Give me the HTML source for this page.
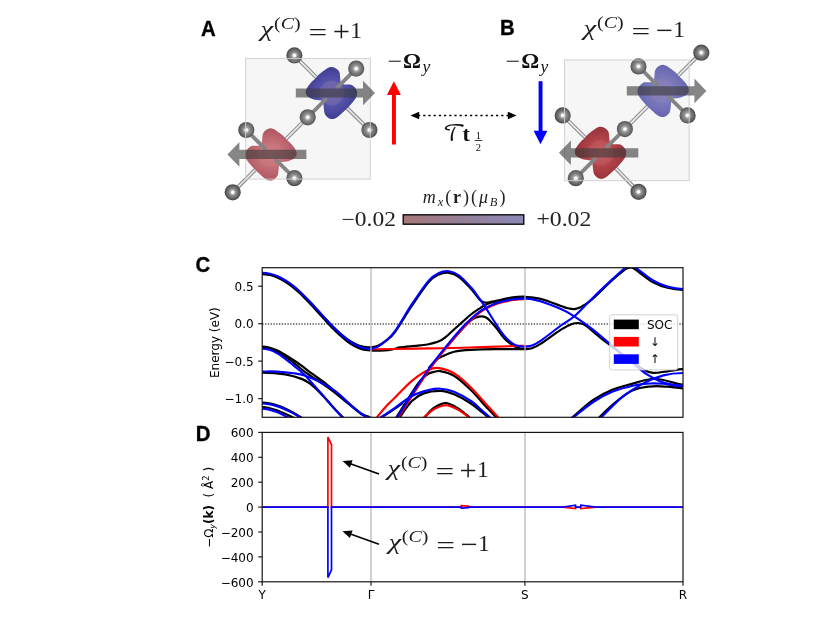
<!DOCTYPE html>
<html><head><meta charset="utf-8"><title>Figure</title>
<style>
html,body{margin:0;padding:0;background:#fff;}
body{width:830px;height:623px;overflow:hidden;}
svg{display:block;}
.dv{font-family:"DejaVu Sans","Liberation Sans",sans-serif;font-size:12px;fill:#000;}
.lab{font-family:"Liberation Sans","DejaVu Sans",sans-serif;font-weight:bold;font-size:22.4px;fill:#000;}
</style></head><body>
<svg width="830" height="623" viewBox="0 0 830 623">
<defs>
<radialGradient id="sph" cx="0.5" cy="0.5" r="0.5">
<stop offset="0" stop-color="#ffffff"/><stop offset="0.14" stop-color="#ffffff"/><stop offset="0.3" stop-color="#a8a8a8"/><stop offset="0.5" stop-color="#7e7e7e"/><stop offset="0.75" stop-color="#666"/><stop offset="0.93" stop-color="#4c4c4c"/><stop offset="1" stop-color="#565656"/>
</radialGradient>
<radialGradient id="gbA" gradientUnits="userSpaceOnUse" cx="0" cy="0" r="28"><stop offset="0" stop-color="#6058a8"/><stop offset="0.55" stop-color="#4340a0"/><stop offset="1" stop-color="#2c2a82"/></radialGradient>
<radialGradient id="grA" gradientUnits="userSpaceOnUse" cx="0" cy="0" r="28"><stop offset="0" stop-color="#c8747a"/><stop offset="0.55" stop-color="#bc5e68"/><stop offset="1" stop-color="#a4444e"/></radialGradient>
<radialGradient id="gbB" gradientUnits="userSpaceOnUse" cx="0" cy="0" r="28"><stop offset="0" stop-color="#7e76b4"/><stop offset="0.55" stop-color="#6c6ab4"/><stop offset="1" stop-color="#5654a6"/></radialGradient>
<radialGradient id="grB" gradientUnits="userSpaceOnUse" cx="0" cy="0" r="28"><stop offset="0" stop-color="#c05058"/><stop offset="0.55" stop-color="#a83038"/><stop offset="1" stop-color="#8a2028"/></radialGradient>
<linearGradient id="cbar" x1="0" x2="1" y1="0" y2="0"><stop offset="0" stop-color="#a57878"/><stop offset="0.5" stop-color="#957f98"/><stop offset="1" stop-color="#8a8ab4"/></linearGradient>
<clipPath id="clipC"><rect x="262.2" y="267.7" width="420.8" height="149.60000000000002"/></clipPath>
<clipPath id="clipD"><rect x="262.2" y="432.4" width="420.8" height="149.39999999999998"/></clipPath>
</defs>
<rect width="830" height="623" fill="#fff"/>

<!-- panel labels -->
<g class="lab" stroke="#000" stroke-width="0.35">
<text transform="translate(201.1 35.5) scale(0.91 1)">A</text>
<text transform="translate(499.9 35.3) scale(0.91 1)">B</text>
<text transform="translate(195.4 272.4) scale(0.91 1)">C</text>
<text transform="translate(195.7 440.6) scale(0.91 1)">D</text>
</g>

<!-- panel A -->
<g id="panelA">
<rect x="245.6" y="58.5" width="124.7" height="120.6" fill="#f6f6f6"/>
<line x1="331.8" y1="93.0" x2="294.4" y2="55.4" stroke="#8a8a8a" stroke-width="3.9"/><line x1="331.8" y1="93.0" x2="294.4" y2="55.4" stroke="#f0f0f0" stroke-width="1.5"/>
<line x1="331.8" y1="93.0" x2="369.4" y2="130.0" stroke="#8a8a8a" stroke-width="3.9"/><line x1="331.8" y1="93.0" x2="369.4" y2="130.0" stroke="#f0f0f0" stroke-width="1.5"/>
<line x1="270.6" y1="154.4" x2="307.7" y2="117.3" stroke="#8a8a8a" stroke-width="3.9"/><line x1="270.6" y1="154.4" x2="307.7" y2="117.3" stroke="#f0f0f0" stroke-width="1.5"/>
<line x1="270.6" y1="154.4" x2="232.7" y2="192.3" stroke="#8a8a8a" stroke-width="3.9"/><line x1="270.6" y1="154.4" x2="232.7" y2="192.3" stroke="#f0f0f0" stroke-width="1.5"/>
<g transform="translate(331.8 93.0)"><path d="M-26.0 -2.0C-25.6 -4.0 -23.7 -6.8 -22.0 -9.0C-20.3 -11.2 -17.8 -13.2 -16.0 -15.0C-14.2 -16.8 -13.5 -18.2 -11.0 -20.0C-8.5 -21.8 -4.0 -25.7 -1.0 -26.0C2.0 -26.3 5.4 -24.0 7.0 -22.0C8.6 -20.0 8.0 -16.2 8.5 -14.0C9.0 -11.8 8.1 -10.0 10.0 -9.0C11.9 -8.0 17.5 -9.2 20.0 -8.0C22.5 -6.8 24.3 -4.2 25.0 -2.0C25.7 0.2 25.2 2.6 24.0 5.0C22.8 7.4 20.0 10.2 18.0 12.5C16.0 14.8 14.2 16.5 12.0 18.5C9.8 20.5 7.2 23.2 5.0 24.5C2.8 25.8 0.9 26.4 -1.0 26.0C-2.9 25.6 -5.3 23.8 -6.5 22.0C-7.7 20.2 -7.7 17.0 -8.0 15.0C-8.3 13.0 -8.3 11.2 -8.5 10.0C-8.7 8.8 -7.4 8.6 -9.0 8.0C-10.6 7.4 -15.4 7.3 -18.0 6.5C-20.6 5.7 -23.2 4.4 -24.5 3.0C-25.8 1.6 -26.4 0.0 -26.0 -2.0Z" fill="url(#gbA)"/><circle cx="0" cy="0" r="12.5" fill="#8a78b0" opacity="0.3"/></g>
<g transform="translate(270.6 154.4) scale(-1 1)"><path d="M-26.0 -2.0C-25.6 -4.0 -23.7 -6.8 -22.0 -9.0C-20.3 -11.2 -17.8 -13.2 -16.0 -15.0C-14.2 -16.8 -13.5 -18.2 -11.0 -20.0C-8.5 -21.8 -4.0 -25.7 -1.0 -26.0C2.0 -26.3 5.4 -24.0 7.0 -22.0C8.6 -20.0 8.0 -16.2 8.5 -14.0C9.0 -11.8 8.1 -10.0 10.0 -9.0C11.9 -8.0 17.5 -9.2 20.0 -8.0C22.5 -6.8 24.3 -4.2 25.0 -2.0C25.7 0.2 25.2 2.6 24.0 5.0C22.8 7.4 20.0 10.2 18.0 12.5C16.0 14.8 14.2 16.5 12.0 18.5C9.8 20.5 7.2 23.2 5.0 24.5C2.8 25.8 0.9 26.4 -1.0 26.0C-2.9 25.6 -5.3 23.8 -6.5 22.0C-7.7 20.2 -7.7 17.0 -8.0 15.0C-8.3 13.0 -8.3 11.2 -8.5 10.0C-8.7 8.8 -7.4 8.6 -9.0 8.0C-10.6 7.4 -15.4 7.3 -18.0 6.5C-20.6 5.7 -23.2 4.4 -24.5 3.0C-25.8 1.6 -26.4 0.0 -26.0 -2.0Z" fill="url(#grA)"/><circle cx="0" cy="0" r="12.5" fill="#d07878" opacity="0.3"/></g>
<line x1="336.7" y1="88.1" x2="356.2" y2="68.6" stroke="#7a7a7a" stroke-width="3.8"/>
<line x1="326.9" y1="98.0" x2="307.7" y2="117.3" stroke="#7a7a7a" stroke-width="3.8"/>
<line x1="265.7" y1="149.4" x2="246.3" y2="130.0" stroke="#7a7a7a" stroke-width="3.8"/>
<line x1="275.5" y1="159.3" x2="294.4" y2="178.2" stroke="#7a7a7a" stroke-width="3.8"/>
<circle cx="294.4" cy="55.4" r="8.1" fill="url(#sph)"/>
<circle cx="356.2" cy="68.6" r="8.1" fill="url(#sph)"/>
<circle cx="307.7" cy="117.3" r="8.1" fill="url(#sph)"/>
<circle cx="369.4" cy="130.0" r="8.1" fill="url(#sph)"/>
<circle cx="246.3" cy="130.0" r="8.1" fill="url(#sph)"/>
<circle cx="294.4" cy="178.2" r="8.1" fill="url(#sph)"/>
<circle cx="232.7" cy="192.3" r="8.1" fill="url(#sph)"/>
<rect x="245.6" y="58.5" width="124.7" height="120.6" fill="#fff" fill-opacity="0.08" stroke="#cfcfcf" stroke-opacity="0.85" stroke-width="1.1"/>
<polygon points="295.8,88.4 363.0,88.4 363.0,80.7 375.0,93.0 363.0,105.3 363.0,97.6 295.8,97.6" fill="#3c3c3c" fill-opacity="0.62"/>
<polygon points="306.4,149.8 239.4,149.8 239.4,142.1 227.4,154.4 239.4,166.7 239.4,159.0 306.4,159.0" fill="#3c3c3c" fill-opacity="0.62"/>
</g>
<!-- panel B -->
<g id="panelB">
<rect x="564.5" y="60" width="124.7" height="120.6" fill="#f6f6f6"/>
<line x1="662.8" y1="90.9" x2="701.3" y2="52.7" stroke="#8a8a8a" stroke-width="3.9"/><line x1="662.8" y1="90.9" x2="701.3" y2="52.7" stroke="#f0f0f0" stroke-width="1.5"/>
<line x1="662.8" y1="90.9" x2="624.9" y2="129.1" stroke="#8a8a8a" stroke-width="3.9"/><line x1="662.8" y1="90.9" x2="624.9" y2="129.1" stroke="#f0f0f0" stroke-width="1.5"/>
<line x1="600.9" y1="152.8" x2="562.7" y2="115.4" stroke="#8a8a8a" stroke-width="3.9"/><line x1="600.9" y1="152.8" x2="562.7" y2="115.4" stroke="#f0f0f0" stroke-width="1.5"/>
<line x1="600.9" y1="152.8" x2="638.5" y2="191.8" stroke="#8a8a8a" stroke-width="3.9"/><line x1="600.9" y1="152.8" x2="638.5" y2="191.8" stroke="#f0f0f0" stroke-width="1.5"/>
<g transform="translate(662.8 90.9) scale(-1 1)"><path d="M-26.0 -2.0C-25.6 -4.0 -23.7 -6.8 -22.0 -9.0C-20.3 -11.2 -17.8 -13.2 -16.0 -15.0C-14.2 -16.8 -13.5 -18.2 -11.0 -20.0C-8.5 -21.8 -4.0 -25.7 -1.0 -26.0C2.0 -26.3 5.4 -24.0 7.0 -22.0C8.6 -20.0 8.0 -16.2 8.5 -14.0C9.0 -11.8 8.1 -10.0 10.0 -9.0C11.9 -8.0 17.5 -9.2 20.0 -8.0C22.5 -6.8 24.3 -4.2 25.0 -2.0C25.7 0.2 25.2 2.6 24.0 5.0C22.8 7.4 20.0 10.2 18.0 12.5C16.0 14.8 14.2 16.5 12.0 18.5C9.8 20.5 7.2 23.2 5.0 24.5C2.8 25.8 0.9 26.4 -1.0 26.0C-2.9 25.6 -5.3 23.8 -6.5 22.0C-7.7 20.2 -7.7 17.0 -8.0 15.0C-8.3 13.0 -8.3 11.2 -8.5 10.0C-8.7 8.8 -7.4 8.6 -9.0 8.0C-10.6 7.4 -15.4 7.3 -18.0 6.5C-20.6 5.7 -23.2 4.4 -24.5 3.0C-25.8 1.6 -26.4 0.0 -26.0 -2.0Z" fill="url(#gbB)"/><circle cx="0" cy="0" r="12.5" fill="#8a80b8" opacity="0.3"/></g>
<g transform="translate(600.9 152.8)"><path d="M-26.0 -2.0C-25.6 -4.0 -23.7 -6.8 -22.0 -9.0C-20.3 -11.2 -17.8 -13.2 -16.0 -15.0C-14.2 -16.8 -13.5 -18.2 -11.0 -20.0C-8.5 -21.8 -4.0 -25.7 -1.0 -26.0C2.0 -26.3 5.4 -24.0 7.0 -22.0C8.6 -20.0 8.0 -16.2 8.5 -14.0C9.0 -11.8 8.1 -10.0 10.0 -9.0C11.9 -8.0 17.5 -9.2 20.0 -8.0C22.5 -6.8 24.3 -4.2 25.0 -2.0C25.7 0.2 25.2 2.6 24.0 5.0C22.8 7.4 20.0 10.2 18.0 12.5C16.0 14.8 14.2 16.5 12.0 18.5C9.8 20.5 7.2 23.2 5.0 24.5C2.8 25.8 0.9 26.4 -1.0 26.0C-2.9 25.6 -5.3 23.8 -6.5 22.0C-7.7 20.2 -7.7 17.0 -8.0 15.0C-8.3 13.0 -8.3 11.2 -8.5 10.0C-8.7 8.8 -7.4 8.6 -9.0 8.0C-10.6 7.4 -15.4 7.3 -18.0 6.5C-20.6 5.7 -23.2 4.4 -24.5 3.0C-25.8 1.6 -26.4 0.0 -26.0 -2.0Z" fill="url(#grB)"/><circle cx="0" cy="0" r="12.5" fill="#c86060" opacity="0.3"/></g>
<line x1="657.9" y1="85.9" x2="638.5" y2="66.4" stroke="#7a7a7a" stroke-width="3.8"/>
<line x1="667.8" y1="95.8" x2="687.6" y2="115.4" stroke="#7a7a7a" stroke-width="3.8"/>
<line x1="605.9" y1="147.9" x2="624.9" y2="129.1" stroke="#7a7a7a" stroke-width="3.8"/>
<line x1="596.0" y1="157.8" x2="575.8" y2="178.2" stroke="#7a7a7a" stroke-width="3.8"/>
<circle cx="701.3" cy="52.7" r="8.1" fill="url(#sph)"/>
<circle cx="638.5" cy="66.4" r="8.1" fill="url(#sph)"/>
<circle cx="687.6" cy="115.4" r="8.1" fill="url(#sph)"/>
<circle cx="624.9" cy="129.1" r="8.1" fill="url(#sph)"/>
<circle cx="562.7" cy="115.4" r="8.1" fill="url(#sph)"/>
<circle cx="575.8" cy="178.2" r="8.1" fill="url(#sph)"/>
<circle cx="638.5" cy="191.8" r="8.1" fill="url(#sph)"/>
<rect x="564.5" y="60" width="124.7" height="120.6" fill="#fff" fill-opacity="0.08" stroke="#cfcfcf" stroke-opacity="0.85" stroke-width="1.1"/>
<polygon points="626.8,86.3 694.4,86.3 694.4,78.6 706.4,90.9 694.4,103.2 694.4,95.5 626.8,95.5" fill="#3c3c3c" fill-opacity="0.62"/>
<polygon points="638.3,148.2 570.9,148.2 570.9,140.5 558.9,152.8 570.9,165.1 570.9,157.4 638.3,157.4" fill="#3c3c3c" fill-opacity="0.62"/>
</g>
<g font-family="'Liberation Serif','DejaVu Serif',serif" fill="#1c1c1c"><text x="260.6" y="36.0" font-size="22" font-style="italic" textLength="12.6" lengthAdjust="spacingAndGlyphs">χ</text><text x="274.0" y="29.0" font-size="17" textLength="26.6" lengthAdjust="spacingAndGlyphs">(<tspan font-style="italic">C</tspan>)</text><text x="308.5" y="40.0" font-size="24" textLength="18.7" lengthAdjust="spacingAndGlyphs">=</text><text x="332.7" y="41.0" font-size="29" textLength="17.2" lengthAdjust="spacingAndGlyphs">+</text><text x="350.2" y="38.0" font-size="23.5">1</text></g>
<g font-family="'Liberation Serif','DejaVu Serif',serif" fill="#1c1c1c"><text x="583.6" y="35.0" font-size="22" font-style="italic" textLength="12.6" lengthAdjust="spacingAndGlyphs">χ</text><text x="597.0" y="28.0" font-size="17" textLength="26.6" lengthAdjust="spacingAndGlyphs">(<tspan font-style="italic">C</tspan>)</text><text x="631.5" y="39.0" font-size="24" textLength="18.7" lengthAdjust="spacingAndGlyphs">=</text><text x="655.7" y="40.0" font-size="29" textLength="17.2" lengthAdjust="spacingAndGlyphs">−</text><text x="673.2" y="37.0" font-size="23.5">1</text></g>
<g font-family="'Liberation Serif','DejaVu Serif',serif" fill="#111"><text x="387.4" y="68.2" font-size="21" textLength="14.5" lengthAdjust="spacingAndGlyphs">−</text><text x="403.0" y="68.2" font-size="22" font-weight="bold" textLength="18" lengthAdjust="spacingAndGlyphs">Ω</text><text x="422.4" y="71.7" font-size="17.5" font-style="italic">y</text></g>
<g font-family="'Liberation Serif','DejaVu Serif',serif" fill="#111"><text x="505.6" y="68.2" font-size="21" textLength="14.5" lengthAdjust="spacingAndGlyphs">−</text><text x="521.2" y="68.2" font-size="22" font-weight="bold" textLength="18" lengthAdjust="spacingAndGlyphs">Ω</text><text x="540.6" y="71.7" font-size="17.5" font-style="italic">y</text></g>

<!-- red / blue vertical arrows -->
<rect x="392" y="94" width="3.9" height="50.5" fill="#f00"/>
<polygon points="393.9,81.2 400.9,94.9 386.9,94.9" fill="#f00"/>
<rect x="538.6" y="81.2" width="3.9" height="50.5" fill="#00f"/>
<polygon points="540.5,144.2 547.4,130.8 533.6,130.8" fill="#00f"/>

<!-- dotted double arrow -->
<line x1="418" y1="115.5" x2="509" y2="115.5" stroke="#000" stroke-width="1.7" stroke-dasharray="2.2 3"/>
<polygon points="410.4,115.5 419.2,111.7 419.2,119.3" fill="#000"/>
<polygon points="516.6,115.5 507.8,111.7 507.8,119.3" fill="#000"/>
<g fill="#111">
<text x="443" y="140.6" font-size="22" font-family="'DejaVu Math TeX Gyre','Liberation Serif',serif" font-style="normal">𝒯</text>
<text x="462.4" y="140.6" font-size="22" font-weight="bold" font-family="'Liberation Serif',serif">t</text>
<text x="478.4" y="138.8" font-size="10.5" text-anchor="middle" font-family="'Liberation Serif',serif">1</text>
<rect x="474.6" y="140.1" width="7.6" height="0.8"/>
<text x="478.4" y="150.7" font-size="10.5" text-anchor="middle" font-family="'Liberation Serif',serif">2</text>
</g>

<!-- colorbar -->
<rect x="403.2" y="214.8" width="120.6" height="9.4" fill="url(#cbar)" stroke="#000" stroke-width="1.3"/>
<g font-family="'Liberation Serif','DejaVu Serif',serif" fill="#222">
<text x="341.6" y="225.6" font-size="20.5" textLength="54.4" lengthAdjust="spacingAndGlyphs">−0.02</text>
<text x="536.4" y="225.6" font-size="20.5" textLength="55" lengthAdjust="spacingAndGlyphs">+0.02</text>
<text x="422.8" y="203.4" font-size="18" textLength="82.6"><tspan font-style="italic">m</tspan><tspan font-style="italic" font-size="12.5" dy="3">x</tspan><tspan dy="-3">(</tspan><tspan font-weight="bold">r</tspan>)(<tspan font-style="italic">μ</tspan><tspan font-style="italic" font-size="12.5" dy="3">B</tspan><tspan dy="-3">)</tspan></text>
</g>

<!-- plot C -->
<g id="plotC">
<line x1="262.2" x2="683.0" y1="323.9" y2="323.9" stroke="#4a4a4a" stroke-width="1.5" stroke-dasharray="1.3 1.5"/>
<g clip-path="url(#clipC)">
<path d="M261.7 274.0C263.0 274.1 266.9 274.3 269.5 274.8C272.1 275.4 274.7 276.3 277.2 277.4C279.8 278.5 282.4 279.9 285.0 281.6C287.6 283.2 290.2 285.1 292.8 287.2C295.4 289.2 298.0 291.6 300.6 294.0C303.1 296.4 305.7 299.1 308.3 301.8C310.9 304.5 313.5 307.4 316.1 310.2C318.7 313.0 321.3 316.0 323.9 318.8C326.5 321.6 329.1 324.5 331.6 327.2C334.2 329.8 336.8 332.5 339.4 334.8C342.0 337.2 344.6 339.4 347.2 341.3C349.8 343.3 352.4 345.0 355.0 346.3C357.5 347.7 360.1 348.7 362.7 349.5C365.3 350.2 369.2 350.4 370.5 350.5" fill="none" stroke="#000" stroke-width="2.2" stroke-linejoin="round"/>
<path d="M261.9 273.9C263.2 274.0 267.1 274.1 269.7 274.7C272.3 275.3 274.9 276.1 277.5 277.2C280.1 278.3 282.7 279.7 285.3 281.3C287.9 282.8 290.5 284.7 293.1 286.7C295.7 288.8 298.3 291.0 300.9 293.4C303.5 295.8 306.1 298.4 308.7 301.0C311.3 303.7 313.9 306.5 316.5 309.2C319.0 312.0 321.6 314.9 324.2 317.6C326.8 320.4 329.4 323.1 332.0 325.7C334.6 328.3 337.2 330.8 339.8 333.1C342.4 335.4 345.0 337.5 347.6 339.3C350.2 341.1 352.8 342.7 355.4 344.0C358.0 345.2 360.6 346.2 363.2 346.7C365.8 347.3 369.7 347.3 371.0 347.4" fill="none" stroke="#000" stroke-width="2.2" stroke-linejoin="round"/>
<path d="M248.1 350.2C250.5 349.6 257.7 346.5 262.5 346.5C267.3 346.5 271.7 347.9 276.9 350.2C282.1 352.5 289.5 357.5 293.7 360.2C297.9 362.9 299.4 364.0 302.2 366.1C305.0 368.2 306.4 369.5 310.6 372.6C314.8 375.8 321.9 380.6 327.5 385.0C333.1 389.4 338.7 394.5 344.3 399.3C349.9 404.1 356.8 410.7 361.2 413.7C365.6 416.7 369.4 416.9 371.0 417.5" fill="none" stroke="#000" stroke-width="2.2" stroke-linejoin="round"/>
<path d="M248.1 351.4C250.5 350.7 257.7 347.0 262.5 347.0C267.3 347.0 271.7 348.8 276.9 351.4C282.1 354.0 289.5 359.7 293.7 362.8C297.9 365.9 299.4 367.6 302.2 369.8C305.0 372.0 306.4 372.9 310.6 375.8C314.8 378.7 321.9 383.1 327.5 387.2C333.1 391.3 338.7 395.8 344.3 400.3C349.9 404.8 356.8 411.1 361.2 414.0C365.6 416.9 369.4 416.9 371.0 417.5" fill="none" stroke="#000" stroke-width="2.2" stroke-linejoin="round"/>
<path d="M239.7 374.4C243.5 374.1 254.9 372.7 262.5 372.7C270.1 372.7 278.7 373.3 285.3 374.4C291.9 375.5 298.0 377.5 302.2 379.1C306.4 380.7 307.8 382.1 310.6 384.2C313.4 386.3 316.2 388.9 319.0 391.7C321.8 394.5 324.7 397.9 327.5 401.0C330.3 404.1 333.4 407.6 335.9 410.3C338.4 413.0 340.6 414.9 342.6 417.0C344.6 419.1 347.1 422.0 348.0 423.0" fill="none" stroke="#000" stroke-width="2.2" stroke-linejoin="round"/>
<path d="M248.1 405.2C250.5 404.8 257.7 402.7 262.5 402.7C267.3 402.7 272.5 403.9 276.9 405.2C281.3 406.4 284.8 408.2 288.7 410.2C292.6 412.2 297.6 415.3 300.5 417.0C303.4 418.7 305.1 419.9 306.0 420.5" fill="none" stroke="#000" stroke-width="2.2" stroke-linejoin="round"/>
<path d="M248.1 410.3C250.5 409.8 257.7 407.0 262.5 407.0C267.3 407.0 272.0 408.6 276.9 410.3C281.8 412.0 288.6 415.4 292.0 417.0C295.4 418.6 296.2 419.5 297.0 420.0" fill="none" stroke="#000" stroke-width="2.2" stroke-linejoin="round"/>
<path d="M371.0 347.4C372.2 347.1 375.5 346.8 378.0 345.7C380.5 344.6 383.2 343.0 386.0 340.7C388.8 338.4 390.7 337.8 395.0 332.0C399.3 326.2 406.3 314.0 411.9 305.7C417.5 297.4 424.2 287.3 428.7 282.1C433.2 276.9 435.5 276.1 438.9 274.5C442.3 272.9 445.6 272.4 449.0 272.8C452.4 273.2 455.5 274.3 459.1 277.0C462.8 279.7 467.5 285.1 470.9 288.8C474.3 292.5 477.3 297.1 479.3 299.3C481.3 301.5 481.7 301.4 483.0 302.0C484.3 302.6 485.7 302.7 486.9 302.7C488.1 302.7 488.4 302.4 490.0 302.1C491.6 301.8 492.3 301.6 496.2 300.8C500.1 300.0 508.3 298.1 513.1 297.4C517.9 296.7 522.9 296.7 524.9 296.6" fill="none" stroke="#000" stroke-width="2.2" stroke-linejoin="round"/>
<path d="M371.0 350.5C372.5 350.5 377.2 350.8 380.0 350.7C382.8 350.6 385.5 350.5 388.0 350.2C390.5 349.9 393.0 349.3 395.0 348.8C397.0 348.3 397.2 347.8 400.0 347.4C402.8 347.0 408.6 346.5 411.9 346.2C415.2 345.9 417.2 345.7 420.0 345.4C422.8 345.1 425.6 344.9 428.7 344.2C431.8 343.5 436.1 342.5 438.9 341.3C441.7 340.1 443.1 339.1 445.6 337.1C448.1 335.1 451.2 332.0 454.0 329.5C456.8 327.0 459.7 324.4 462.5 321.9C465.3 319.4 468.1 316.7 470.9 314.5C473.7 312.3 476.8 310.4 479.3 308.7C481.8 307.0 483.3 305.7 486.1 304.5C488.9 303.3 491.7 302.6 496.2 301.5C500.7 300.4 508.3 298.9 513.1 298.2C517.9 297.5 522.9 297.5 524.9 297.4" fill="none" stroke="#000" stroke-width="2.2" stroke-linejoin="round"/>
<path d="M394.0 423.0C394.6 422.1 394.5 422.2 397.5 417.5C400.5 412.8 406.7 402.9 411.9 395.0C417.1 387.1 423.1 377.6 428.7 369.8C434.3 362.0 440.0 355.1 445.6 348.2C451.2 341.3 458.3 333.3 462.5 328.7C466.7 324.1 468.6 322.4 470.9 320.5C473.1 318.6 474.2 318.2 476.0 317.5C477.8 316.8 480.2 316.3 481.9 316.3C483.6 316.3 484.7 316.9 486.0 317.5C487.3 318.1 487.8 318.5 489.5 320.2C491.2 321.9 493.7 324.7 496.2 327.8C498.7 330.9 501.8 335.8 504.6 338.7C507.4 341.6 510.7 343.9 513.1 345.5C515.5 347.1 517.0 347.4 519.0 348.0C521.0 348.6 523.9 348.8 524.9 348.9" fill="none" stroke="#000" stroke-width="2.2" stroke-linejoin="round"/>
<path d="M428.7 368.2C429.8 366.9 433.2 362.5 435.5 360.5C437.8 358.5 439.1 357.8 442.2 356.3C445.3 354.9 449.2 352.9 454.0 351.8C458.8 350.7 463.9 350.3 470.9 349.9C477.9 349.5 487.2 349.3 496.2 349.2C505.2 349.1 520.1 349.1 524.9 349.1" fill="none" stroke="#000" stroke-width="2.2" stroke-linejoin="round"/>
<path d="M393.0 423.0C394.2 421.1 396.0 417.8 400.0 411.5C404.0 405.2 412.9 390.8 416.9 385.0C420.9 379.2 422.0 378.9 424.0 377.0C426.0 375.1 427.0 374.4 428.7 373.5C430.4 372.6 432.0 372.2 434.0 371.8C436.0 371.4 437.2 370.6 440.5 371.2C443.8 371.8 448.9 372.6 454.0 375.7C459.1 378.8 465.3 384.5 470.9 390.0C476.5 395.5 483.6 404.1 487.8 408.6C492.0 413.1 494.3 415.0 496.2 417.0C498.1 419.0 498.5 419.9 499.0 420.5" fill="none" stroke="#000" stroke-width="2.2" stroke-linejoin="round"/>
<path d="M398.0 420.0C398.3 419.5 397.7 420.2 400.0 417.0C402.3 413.8 407.9 404.9 411.9 401.0C415.8 397.1 418.9 395.1 423.7 393.4C428.5 391.7 435.4 390.8 440.5 390.9C445.6 391.0 448.9 392.2 454.0 394.3C459.1 396.4 465.3 399.7 470.9 403.5C476.5 407.3 484.4 414.2 487.8 417.0C491.2 419.8 490.5 419.9 491.0 420.5" fill="none" stroke="#000" stroke-width="2.2" stroke-linejoin="round"/>
<path d="M377.0 420.5C377.7 420.0 378.4 419.6 381.4 417.6C384.4 415.6 391.4 411.1 395.0 408.6C398.6 406.1 401.7 403.8 403.0 402.8" fill="none" stroke="#000" stroke-width="2.2" stroke-linejoin="round"/>
<path d="M422.0 420.5C422.6 419.8 423.5 418.6 425.5 416.5C427.5 414.4 430.4 410.2 433.8 408.0C437.2 405.8 441.7 403.2 445.6 403.2C449.5 403.2 453.5 405.7 457.4 408.0C461.3 410.3 466.5 414.9 469.0 417.0C471.5 419.1 471.9 419.9 472.5 420.5" fill="none" stroke="#000" stroke-width="2.2" stroke-linejoin="round"/>
<path d="M524.9 296.9C527.5 297.2 534.5 297.4 540.5 298.9C546.5 300.4 556.4 304.4 561.0 306.0C565.6 307.6 565.8 307.8 568.0 308.3C570.2 308.8 572.3 309.2 574.3 309.1C576.3 309.0 578.5 308.1 580.0 307.5C581.5 306.9 581.5 306.8 583.5 305.5C585.5 304.2 586.9 303.9 591.7 299.7C596.5 295.5 606.7 285.1 612.2 280.2C617.7 275.2 621.9 272.0 624.5 270.0C627.1 268.0 627.0 268.5 628.0 268.1C629.0 267.7 629.7 267.4 630.6 267.4C631.5 267.4 632.1 267.5 633.5 268.3C634.9 269.1 635.5 269.7 638.8 272.0C642.1 274.3 648.3 279.7 653.1 282.3C657.9 284.9 662.4 286.6 667.5 287.8C672.6 289.1 678.2 289.8 683.5 289.8C688.8 289.8 696.8 288.1 699.5 287.8" fill="none" stroke="#000" stroke-width="2.2" stroke-linejoin="round"/>
<path d="M524.9 349.3C526.1 349.1 529.4 349.1 532.0 348.2C534.6 347.3 535.7 347.0 540.5 343.9C545.3 340.8 555.8 332.9 561.0 329.6C566.2 326.3 569.1 325.1 572.0 324.0C574.9 322.9 576.4 322.9 578.4 323.0C580.4 323.1 582.5 323.9 584.0 324.6C585.5 325.3 584.6 324.6 587.6 327.0C590.6 329.4 597.8 335.5 601.9 338.8C606.0 342.1 608.8 344.1 612.2 346.8C615.6 349.5 617.3 351.1 622.4 354.9C627.5 358.6 637.8 366.3 642.9 369.3C648.0 372.3 649.0 372.6 653.1 372.9C657.2 373.2 662.4 371.9 667.5 371.3C672.6 370.7 678.2 369.1 683.5 369.1C688.8 369.1 696.8 370.9 699.5 371.3" fill="none" stroke="#000" stroke-width="2.2" stroke-linejoin="round"/>
<path d="M569.0 420.5C569.9 419.7 570.2 419.2 574.2 415.8C578.2 412.4 586.9 404.3 593.2 400.0C599.5 395.7 605.6 392.5 612.2 389.8C618.8 387.1 626.2 385.4 632.7 383.6C639.2 381.8 646.0 379.6 651.1 379.0C656.2 378.4 658.0 379.1 663.4 380.0C668.8 380.9 676.8 384.5 683.5 384.5C690.2 384.5 700.2 380.8 703.6 380.0" fill="none" stroke="#000" stroke-width="2.2" stroke-linejoin="round"/>
<path d="M597.0 420.5C597.5 419.9 597.4 419.4 599.9 416.8C602.4 414.2 607.8 408.9 612.2 405.1C616.6 401.3 622.1 396.7 626.5 393.9C630.9 391.1 634.4 389.6 638.8 388.3C643.2 387.0 648.3 386.6 653.1 386.3C657.9 386.0 662.4 386.4 667.5 386.7C672.6 387.0 678.2 388.3 683.5 388.3C688.8 388.3 696.8 387.0 699.5 386.7" fill="none" stroke="#000" stroke-width="2.2" stroke-linejoin="round"/>
<path d="M371.0 349.2C375.0 349.2 385.2 349.1 395.0 349.0C404.8 348.9 418.8 348.6 430.0 348.4C441.2 348.2 447.5 348.1 462.5 347.7C477.5 347.3 509.4 346.1 519.8 345.9C530.2 345.7 524.0 346.5 524.9 346.6" fill="none" stroke="#f00" stroke-width="2.15" stroke-linejoin="round"/>
<path d="M394.8 423.5C395.4 422.5 395.3 422.3 398.3 417.5C401.3 412.7 407.5 402.8 412.7 394.8C417.9 386.8 423.9 377.4 429.5 369.5C435.1 361.6 440.8 354.7 446.4 347.7C452.0 340.7 457.7 333.6 463.3 327.7C468.9 321.8 474.5 316.3 480.1 312.3C485.7 308.3 491.4 305.9 497.0 303.8C502.6 301.7 509.1 300.7 513.9 299.9C518.7 299.1 523.7 299.2 525.7 299.1" fill="none" stroke="#f00" stroke-width="2.15" stroke-linejoin="round"/>
<path d="M375.0 420.5C375.5 419.8 376.2 418.3 378.0 416.0C379.8 413.7 383.2 409.6 386.0 406.5C388.8 403.4 390.7 401.9 395.0 397.6C399.3 393.3 406.3 385.4 411.9 380.8C417.5 376.2 424.2 371.9 428.7 369.8C433.2 367.7 434.7 367.5 438.9 368.1C443.1 368.7 448.7 370.0 454.0 373.2C459.3 376.4 465.3 382.0 470.9 387.5C476.5 393.0 483.3 401.2 487.8 406.1C492.3 411.0 495.7 414.6 497.9 417.0C500.1 419.4 500.5 419.9 501.0 420.5" fill="none" stroke="#f00" stroke-width="2.15" stroke-linejoin="round"/>
<path d="M421.0 420.5C421.6 419.9 422.4 418.9 424.5 417.0C426.6 415.1 430.3 411.4 433.8 409.4C437.3 407.4 441.7 405.2 445.6 405.2C449.5 405.2 453.6 407.4 457.4 409.4C461.2 411.4 466.0 415.1 468.4 417.0C470.8 418.9 471.4 419.9 472.0 420.5" fill="none" stroke="#f00" stroke-width="2.15" stroke-linejoin="round"/>
<path d="M254.4 273.7C255.7 273.6 259.6 272.9 262.2 272.9C264.8 272.9 267.4 273.2 270.0 273.7C272.6 274.3 275.2 275.1 277.7 276.2C280.3 277.4 282.9 278.8 285.5 280.4C288.1 282.0 290.7 283.9 293.3 285.9C295.9 288.0 298.5 290.3 301.1 292.7C303.6 295.2 306.2 297.8 308.8 300.5C311.4 303.2 314.0 306.1 316.6 308.9C319.2 311.7 321.8 314.6 324.4 317.5C327.0 320.3 329.6 323.1 332.1 325.8C334.7 328.5 337.3 331.1 339.9 333.4C342.5 335.8 345.1 338.0 347.7 339.9C350.3 341.8 352.9 343.5 355.5 344.9C358.0 346.2 360.6 347.3 363.2 348.0C365.8 348.7 369.7 348.9 371.0 349.0" fill="none" stroke="#00f" stroke-width="2.15" stroke-linejoin="round"/>
<path d="M248.1 353.0C250.5 352.3 257.7 348.7 262.5 348.7C267.3 348.7 271.7 350.2 276.9 353.0C282.1 355.8 289.1 362.0 293.7 365.6C298.3 369.2 300.5 370.7 304.7 374.9C308.9 379.1 314.6 386.0 319.0 390.9C323.4 395.8 327.0 400.0 330.8 404.4C334.6 408.8 338.6 413.4 341.8 417.0C345.0 420.6 348.6 424.5 350.0 426.0" fill="none" stroke="#00f" stroke-width="2.15" stroke-linejoin="round"/>
<path d="M248.1 371.6C250.5 371.6 257.7 371.5 262.5 371.5C267.3 371.5 271.7 371.3 276.9 371.6C282.1 371.9 289.1 372.6 293.7 373.2C298.3 373.8 300.5 374.0 304.7 375.4C308.9 376.8 313.8 378.9 319.0 381.6C324.2 384.3 330.3 387.5 335.9 391.7C341.5 395.9 348.0 402.9 352.8 406.9C357.6 410.9 361.6 414.1 364.6 415.9C367.6 417.7 369.9 417.3 371.0 417.6" fill="none" stroke="#00f" stroke-width="2.15" stroke-linejoin="round"/>
<path d="M248.1 406.1C250.5 405.7 257.7 403.5 262.5 403.5C267.3 403.5 272.5 404.8 276.9 406.1C281.3 407.4 284.9 409.3 288.7 411.1C292.5 412.9 296.9 415.4 299.6 417.0C302.3 418.6 304.1 419.9 305.0 420.5" fill="none" stroke="#00f" stroke-width="2.15" stroke-linejoin="round"/>
<path d="M248.1 412.0C250.5 411.4 257.7 408.6 262.5 408.6C267.3 408.6 272.8 410.6 276.9 412.0C281.0 413.4 284.5 415.7 287.0 417.0C289.5 418.3 291.2 419.5 292.0 420.0" fill="none" stroke="#00f" stroke-width="2.15" stroke-linejoin="round"/>
<path d="M371.0 349.0C372.2 348.6 375.5 348.0 378.0 346.6C380.5 345.2 383.2 343.3 386.0 340.7C388.8 338.1 390.7 337.3 395.0 331.2C399.3 325.1 406.3 312.6 411.9 304.2C417.5 295.8 424.2 285.8 428.7 280.6C433.2 275.4 435.5 274.6 438.9 273.0C442.3 271.4 445.6 270.9 449.0 271.3C452.4 271.7 455.5 272.8 459.1 275.5C462.8 278.2 467.5 283.5 470.9 287.3C474.3 291.1 476.8 294.8 479.3 298.3C481.8 301.8 483.3 304.0 486.1 308.4C488.9 312.8 493.1 319.8 496.2 324.4C499.3 329.0 501.8 333.0 504.6 336.2C507.4 339.4 510.6 342.1 513.1 343.8C515.6 345.5 517.8 345.8 519.8 346.3C521.8 346.8 524.0 346.7 524.9 346.8" fill="none" stroke="#00f" stroke-width="2.15" stroke-linejoin="round"/>
<path d="M394.0 423.0C394.6 422.0 394.5 421.8 397.5 417.0C400.5 412.2 406.7 402.3 411.9 394.3C417.1 386.3 423.1 376.9 428.7 369.0C434.3 361.1 440.0 354.2 445.6 347.2C451.2 340.2 456.9 333.1 462.5 327.2C468.1 321.3 473.7 315.8 479.3 311.8C484.9 307.8 490.6 305.4 496.2 303.3C501.8 301.2 508.3 300.2 513.1 299.4C517.9 298.6 522.9 298.7 524.9 298.6" fill="none" stroke="#00f" stroke-width="2.15" stroke-linejoin="round"/>
<path d="M377.0 420.5C377.7 419.9 378.4 419.1 381.4 417.0C384.4 414.9 389.9 411.3 395.0 407.8C400.1 404.3 406.3 398.9 411.9 396.0C417.5 393.1 423.9 391.3 428.7 390.1C433.5 388.9 436.3 388.4 440.5 388.7C444.7 389.0 448.9 389.6 454.0 391.7C459.1 393.8 466.1 397.8 470.9 401.0C475.7 404.2 479.6 408.4 482.7 411.1C485.8 413.8 487.8 415.4 489.5 417.0C491.2 418.6 492.4 419.9 493.0 420.5" fill="none" stroke="#00f" stroke-width="2.15" stroke-linejoin="round"/>
<path d="M524.9 346.8C526.1 346.6 529.4 346.5 532.0 345.5C534.6 344.5 535.7 344.2 540.5 340.9C545.3 337.6 555.4 329.6 561.0 325.5C566.6 321.4 569.2 320.7 574.3 316.3C579.4 311.9 585.4 305.0 591.7 298.9C598.0 292.8 606.7 284.5 612.2 279.4C617.7 274.3 621.9 270.5 624.5 268.2C627.1 265.9 627.0 266.3 628.0 265.8C629.0 265.3 629.7 265.0 630.6 265.0C631.5 265.0 632.1 265.0 633.5 265.8C634.9 266.6 635.5 267.6 638.8 270.0C642.1 272.4 648.3 277.7 653.1 280.5C657.9 283.3 662.4 285.2 667.5 286.6C672.6 288.0 678.2 289.0 683.5 289.0C688.8 289.0 696.8 287.0 699.5 286.6" fill="none" stroke="#00f" stroke-width="2.15" stroke-linejoin="round"/>
<path d="M524.9 298.6C526.1 298.7 529.4 298.9 532.0 299.3C534.6 299.8 535.7 299.7 540.5 301.3C545.3 302.9 555.4 306.6 561.0 309.1C566.6 311.6 569.2 313.1 574.3 316.3C579.4 319.6 585.4 323.7 591.7 328.6C598.0 333.5 605.4 340.1 612.2 345.8C619.0 351.6 626.9 358.3 632.7 363.1C638.5 367.9 641.9 371.1 647.0 374.4C652.1 377.6 657.3 380.7 663.4 382.6C669.5 384.5 676.8 385.7 683.5 385.7C690.2 385.7 700.2 383.1 703.6 382.6" fill="none" stroke="#00f" stroke-width="2.15" stroke-linejoin="round"/>
<path d="M570.0 420.5C570.7 419.9 570.3 419.9 574.2 416.8C578.1 413.7 586.9 406.2 593.2 402.0C599.5 397.8 605.6 394.5 612.2 391.8C618.8 389.1 626.4 387.1 632.7 385.7C639.0 384.3 644.9 383.8 650.0 383.5C655.1 383.2 657.8 383.3 663.4 383.8C669.0 384.3 676.8 386.3 683.5 386.3C690.2 386.3 700.2 384.2 703.6 383.8" fill="none" stroke="#00f" stroke-width="2.15" stroke-linejoin="round"/>
<path d="M598.0 420.5C598.6 419.9 597.8 420.7 601.9 416.8C606.0 412.9 615.6 402.4 622.4 396.9C629.2 391.4 636.1 387.2 642.9 383.6C649.7 380.0 656.6 377.2 663.4 375.4C670.2 373.6 676.8 373.0 683.5 373.0C690.2 373.0 700.2 375.0 703.6 375.4" fill="none" stroke="#00f" stroke-width="2.15" stroke-linejoin="round"/>
</g>
<line x1="371.0" x2="371.0" y1="267.7" y2="417.3" stroke="#b8b8b8" stroke-opacity="0.78" stroke-width="1.6"/>
<line x1="525" x2="525" y1="267.7" y2="417.3" stroke="#b8b8b8" stroke-opacity="0.78" stroke-width="1.6"/>
<!-- legend -->
<rect x="609.7" y="314.8" width="68" height="55.1" rx="2.4" ry="2.4" fill="#fff" fill-opacity="0.8" stroke="#ccc" stroke-opacity="0.9" stroke-width="1"/>
<rect x="613.8" y="319.6" width="25" height="9.6" fill="#000"/>
<rect x="613.8" y="336.9" width="25" height="9.6" fill="#f00"/>
<rect x="613.8" y="354.3" width="25" height="9.6" fill="#00f"/>
<g class="dv"><text x="647" y="328.8">SOC</text><text x="649.8" y="345.8">↓</text><text x="649.8" y="363.2">↑</text></g>
<rect x="262.2" y="267.7" width="420.8" height="149.60000000000002" fill="none" stroke="#151515" stroke-width="1.2"/>
<g class="dv">
<line x1="258.2" x2="262.2" y1="286.2" y2="286.2" stroke="#202020" stroke-width="1.2"/>
<text x="253.6" y="290.9" text-anchor="end">0.5</text>
<line x1="258.2" x2="262.2" y1="323.7" y2="323.7" stroke="#202020" stroke-width="1.2"/>
<text x="253.6" y="328.4" text-anchor="end">0.0</text>
<line x1="258.2" x2="262.2" y1="361.1" y2="361.1" stroke="#202020" stroke-width="1.2"/>
<text x="253.6" y="365.8" text-anchor="end">−0.5</text>
<line x1="258.2" x2="262.2" y1="398.6" y2="398.6" stroke="#202020" stroke-width="1.2"/>
<text x="253.6" y="403.3" text-anchor="end">−1.0</text>
<text transform="translate(218.9 342.6) rotate(-90)" text-anchor="middle">Energy (eV)</text>
</g>
</g>

<!-- plot D -->
<g id="plotD">
<line x1="371.0" x2="371.0" y1="432.4" y2="581.8" stroke="#c4c4c4" stroke-width="1.6"/>
<line x1="525" x2="525" y1="432.4" y2="581.8" stroke="#c4c4c4" stroke-width="1.6"/>
<g clip-path="url(#clipD)" fill="none" stroke-width="1.7" stroke-linejoin="miter">
<path d="M262.2 507.09999999999997 L327.9 507.09999999999997 L327.9 437.1 L331.5 444.8 L331.5 507.09999999999997 L461 507.09999999999997 L461.3 505.6 L468.5 506.1 L469.5 507.09999999999997 L563 507.09999999999997 L575.5 508.6 L575.7 507.09999999999997 L580.6 507.09999999999997 L580.8 508.6 L596 507.09999999999997 L683.0 507.09999999999997" stroke="#f00"/>
<path d="M262.2 507.09999999999997 L327.9 507.09999999999997 L327.9 577.6 L331.5 569.9 L331.5 507.09999999999997 L461 507.09999999999997 L461.3 508.2 L468.5 507.7 L469.5 507.09999999999997 L563 507.09999999999997 L575.5 505.2 L575.7 507.09999999999997 L580.6 507.09999999999997 L580.8 505.2 L596 507.09999999999997 L683.0 507.09999999999997" stroke="#00f"/>
</g>
<rect x="262.2" y="432.4" width="420.8" height="149.39999999999998" fill="none" stroke="#151515" stroke-width="1.2"/>
<g class="dv">
<line x1="258.2" x2="262.2" y1="432.4" y2="432.4" stroke="#202020" stroke-width="1.2"/>
<text x="253.6" y="437.1" text-anchor="end">600</text>
<line x1="258.2" x2="262.2" y1="457.3" y2="457.3" stroke="#202020" stroke-width="1.2"/>
<text x="253.6" y="462.0" text-anchor="end">400</text>
<line x1="258.2" x2="262.2" y1="482.2" y2="482.2" stroke="#202020" stroke-width="1.2"/>
<text x="253.6" y="486.9" text-anchor="end">200</text>
<line x1="258.2" x2="262.2" y1="507.1" y2="507.1" stroke="#202020" stroke-width="1.2"/>
<text x="253.6" y="511.8" text-anchor="end">0</text>
<line x1="258.2" x2="262.2" y1="532.0" y2="532.0" stroke="#202020" stroke-width="1.2"/>
<text x="253.6" y="536.7" text-anchor="end">−200</text>
<line x1="258.2" x2="262.2" y1="556.9" y2="556.9" stroke="#202020" stroke-width="1.2"/>
<text x="253.6" y="561.6" text-anchor="end">−400</text>
<line x1="258.2" x2="262.2" y1="581.8" y2="581.8" stroke="#202020" stroke-width="1.2"/>
<text x="253.6" y="586.5" text-anchor="end">−600</text>
<line x1="262.2" x2="262.2" y1="581.8" y2="585.8" stroke="#202020" stroke-width="1.2"/>
<text x="262.2" y="598.6" text-anchor="middle">Y</text>
<line x1="371.0" x2="371.0" y1="581.8" y2="585.8" stroke="#202020" stroke-width="1.2"/>
<text x="371.0" y="598.6" text-anchor="middle">Γ</text>
<line x1="524.9" x2="524.9" y1="581.8" y2="585.8" stroke="#202020" stroke-width="1.2"/>
<text x="524.9" y="598.6" text-anchor="middle">S</text>
<line x1="683.0" x2="683.0" y1="581.8" y2="585.8" stroke="#202020" stroke-width="1.2"/>
<text x="683.0" y="598.6" text-anchor="middle">R</text>
<text transform="translate(212.9 507.4) rotate(-90)" text-anchor="middle" xml:space="preserve">−Ω<tspan font-style="italic" font-size="7.8" dy="2">y</tspan><tspan dy="-2" font-weight="bold">(k)</tspan>  ( Å<tspan font-size="8.4" dy="-4.3">2</tspan><tspan dy="4.3"> )</tspan></text>
</g>
<!-- annotations -->
<line x1="379" y1="474" x2="349" y2="463.2" stroke="#000" stroke-width="1.7"/>
<polygon points="342.5,460.9 352.6,460.2 349.9,467.7" fill="#000"/>
<line x1="379" y1="544.3" x2="349" y2="533.5" stroke="#000" stroke-width="1.7"/>
<polygon points="342.5,531.2 352.6,530.5 349.9,538" fill="#000"/>
<g font-family="'Liberation Serif','DejaVu Serif',serif" fill="#1c1c1c"><text x="387.5" y="475.0" font-size="22" font-style="italic" textLength="12.6" lengthAdjust="spacingAndGlyphs">χ</text><text x="400.9" y="468.0" font-size="17" textLength="26.6" lengthAdjust="spacingAndGlyphs">(<tspan font-style="italic">C</tspan>)</text><text x="435.4" y="479.0" font-size="24" textLength="18.7" lengthAdjust="spacingAndGlyphs">=</text><text x="459.6" y="480.0" font-size="29" textLength="17.2" lengthAdjust="spacingAndGlyphs">+</text><text x="477.1" y="477.0" font-size="23.5">1</text></g>
<g font-family="'Liberation Serif','DejaVu Serif',serif" fill="#1c1c1c"><text x="388.4" y="549.0" font-size="22" font-style="italic" textLength="12.6" lengthAdjust="spacingAndGlyphs">χ</text><text x="401.8" y="542.0" font-size="17" textLength="26.6" lengthAdjust="spacingAndGlyphs">(<tspan font-style="italic">C</tspan>)</text><text x="436.3" y="553.0" font-size="24" textLength="18.7" lengthAdjust="spacingAndGlyphs">=</text><text x="460.5" y="554.0" font-size="29" textLength="17.2" lengthAdjust="spacingAndGlyphs">−</text><text x="478.0" y="551.0" font-size="23.5">1</text></g>
</g>
</svg>
</body></html>
